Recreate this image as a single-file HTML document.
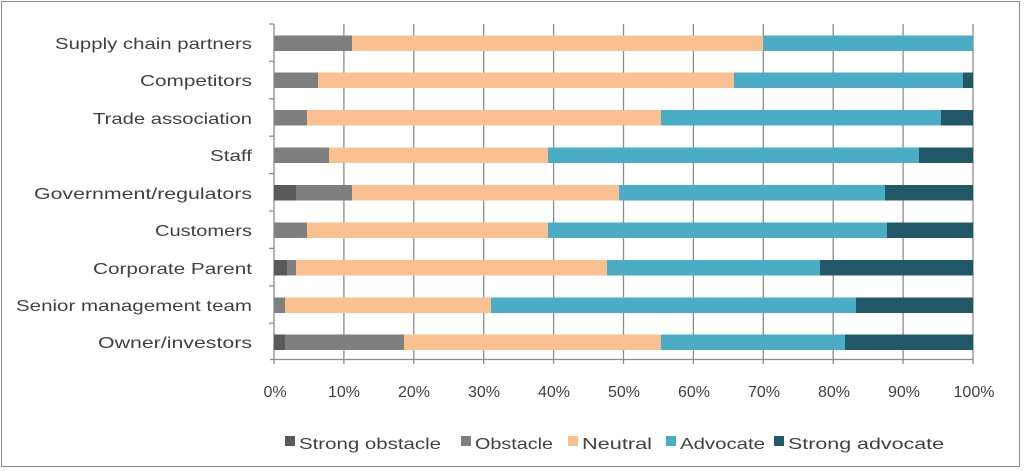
<!DOCTYPE html>
<html><head><meta charset="utf-8"><style>
html,body{margin:0;padding:0;background:#fff}
svg{display:block}
text{font-family:"Liberation Sans",sans-serif;fill:#404040}
</style></head><body>
<svg width="1024" height="471" viewBox="0 0 1024 471">
<rect x="1.5" y="1.5" width="1018" height="465" fill="#fff" stroke="#8c8c8c" stroke-width="1"/>
<g stroke="#8c8c8c" stroke-width="1.3">
<line x1="343.9" y1="24" x2="343.9" y2="364"/><line x1="413.8" y1="24" x2="413.8" y2="364"/>
<line x1="483.7" y1="24" x2="483.7" y2="364"/><line x1="553.6" y1="24" x2="553.6" y2="364"/>
<line x1="623.5" y1="24" x2="623.5" y2="364"/><line x1="693.4" y1="24" x2="693.4" y2="364"/>
<line x1="763.3" y1="24" x2="763.3" y2="364"/><line x1="833.2" y1="24" x2="833.2" y2="364"/>
<line x1="903.1" y1="24" x2="903.1" y2="364"/><line x1="973" y1="24" x2="973" y2="364"/>
<line x1="274" y1="24" x2="274" y2="364"/><line x1="270" y1="359.5" x2="973" y2="359.5"/>
<line x1="269" y1="24" x2="274" y2="24"/><line x1="269" y1="61.4" x2="274" y2="61.4"/>
<line x1="269" y1="98.8" x2="274" y2="98.8"/><line x1="269" y1="136.2" x2="274" y2="136.2"/>
<line x1="269" y1="173.6" x2="274" y2="173.6"/><line x1="269" y1="211" x2="274" y2="211"/>
<line x1="269" y1="248.4" x2="274" y2="248.4"/><line x1="269" y1="285.8" x2="274" y2="285.8"/>
<line x1="269" y1="323.2" x2="274" y2="323.2"/>
</g>
<g>
<!-- Supply chain -->
<rect x="274" y="35.5" width="78" height="15.5" fill="#7f7f7f"/><rect x="352" y="35.5" width="411" height="15.5" fill="#fac090"/><rect x="763" y="35.5" width="210" height="15.5" fill="#4bacc6"/>
<!-- Competitors -->
<rect x="274" y="72.5" width="44" height="15.5" fill="#7f7f7f"/><rect x="318" y="72.5" width="416" height="15.5" fill="#fac090"/><rect x="734" y="72.5" width="229" height="15.5" fill="#4bacc6"/><rect x="963" y="72.5" width="10" height="15.5" fill="#215968"/>
<!-- Trade -->
<rect x="274" y="110" width="33" height="15.5" fill="#7f7f7f"/><rect x="307" y="110" width="354" height="15.5" fill="#fac090"/><rect x="661" y="110" width="280" height="15.5" fill="#4bacc6"/><rect x="941" y="110" width="32" height="15.5" fill="#215968"/>
<!-- Staff -->
<rect x="274" y="147.5" width="55" height="15.5" fill="#7f7f7f"/><rect x="329" y="147.5" width="219" height="15.5" fill="#fac090"/><rect x="548" y="147.5" width="371" height="15.5" fill="#4bacc6"/><rect x="919" y="147.5" width="54" height="15.5" fill="#215968"/>
<!-- Gov -->
<rect x="274" y="185" width="22" height="15.5" fill="#595959"/><rect x="296" y="185" width="56" height="15.5" fill="#7f7f7f"/><rect x="352" y="185" width="267" height="15.5" fill="#fac090"/><rect x="619" y="185" width="266" height="15.5" fill="#4bacc6"/><rect x="885" y="185" width="88" height="15.5" fill="#215968"/>
<!-- Customers -->
<rect x="274" y="222.5" width="33" height="15.5" fill="#7f7f7f"/><rect x="307" y="222.5" width="241" height="15.5" fill="#fac090"/><rect x="548" y="222.5" width="339" height="15.5" fill="#4bacc6"/><rect x="887" y="222.5" width="86" height="15.5" fill="#215968"/>
<!-- Corporate -->
<rect x="274" y="260" width="13" height="15.5" fill="#595959"/><rect x="287" y="260" width="9" height="15.5" fill="#7f7f7f"/><rect x="296" y="260" width="311" height="15.5" fill="#fac090"/><rect x="607" y="260" width="213" height="15.5" fill="#4bacc6"/><rect x="820" y="260" width="153" height="15.5" fill="#215968"/>
<!-- Senior -->
<rect x="274" y="297.5" width="11" height="15.5" fill="#7f7f7f"/><rect x="285" y="297.5" width="206" height="15.5" fill="#fac090"/><rect x="491" y="297.5" width="365" height="15.5" fill="#4bacc6"/><rect x="856" y="297.5" width="117" height="15.5" fill="#215968"/>
<!-- Owner -->
<rect x="274" y="334.5" width="11" height="15.5" fill="#595959"/><rect x="285" y="334.5" width="119" height="15.5" fill="#7f7f7f"/><rect x="404" y="334.5" width="257" height="15.5" fill="#fac090"/><rect x="661" y="334.5" width="184" height="15.5" fill="#4bacc6"/><rect x="845" y="334.5" width="128" height="15.5" fill="#215968"/>
</g>
<g font-size="16" text-anchor="end">
<text x="252" y="49" textLength="197" lengthAdjust="spacingAndGlyphs">Supply chain partners</text>
<text x="252" y="86" textLength="112" lengthAdjust="spacingAndGlyphs">Competitors</text>
<text x="252" y="124" textLength="159" lengthAdjust="spacingAndGlyphs">Trade association</text>
<text x="252" y="161" textLength="42" lengthAdjust="spacingAndGlyphs">Staff</text>
<text x="252" y="199" textLength="218" lengthAdjust="spacingAndGlyphs">Government/regulators</text>
<text x="252" y="236" textLength="97" lengthAdjust="spacingAndGlyphs">Customers</text>
<text x="252" y="274" textLength="159" lengthAdjust="spacingAndGlyphs">Corporate Parent</text>
<text x="252" y="311" textLength="236" lengthAdjust="spacingAndGlyphs">Senior management team</text>
<text x="252" y="348" textLength="154" lengthAdjust="spacingAndGlyphs">Owner/investors</text>
</g>
<g font-size="16" text-anchor="middle">
<text x="275" y="397">0%</text><text x="344" y="397">10%</text><text x="414" y="397">20%</text>
<text x="484" y="397">30%</text><text x="554" y="397">40%</text><text x="624" y="397">50%</text>
<text x="694" y="397">60%</text><text x="764" y="397">70%</text><text x="834" y="397">80%</text>
<text x="904" y="397">90%</text><text x="974" y="397">100%</text>
</g>
<g font-size="16">
<rect x="285" y="436" width="10" height="10" fill="#595959"/><text x="299" y="449" textLength="142" lengthAdjust="spacingAndGlyphs">Strong obstacle</text>
<rect x="461" y="436" width="10" height="10" fill="#7f7f7f"/><text x="475" y="449" textLength="78" lengthAdjust="spacingAndGlyphs">Obstacle</text>
<rect x="568" y="436" width="10" height="10" fill="#fac090"/><text x="582" y="449" textLength="70" lengthAdjust="spacingAndGlyphs">Neutral</text>
<rect x="666" y="436" width="10" height="10" fill="#4bacc6"/><text x="680" y="449" textLength="85" lengthAdjust="spacingAndGlyphs">Advocate</text>
<rect x="774" y="436" width="10" height="10" fill="#215968"/><text x="788" y="449" textLength="156" lengthAdjust="spacingAndGlyphs">Strong advocate</text>
</g>
</svg>
</body></html>
